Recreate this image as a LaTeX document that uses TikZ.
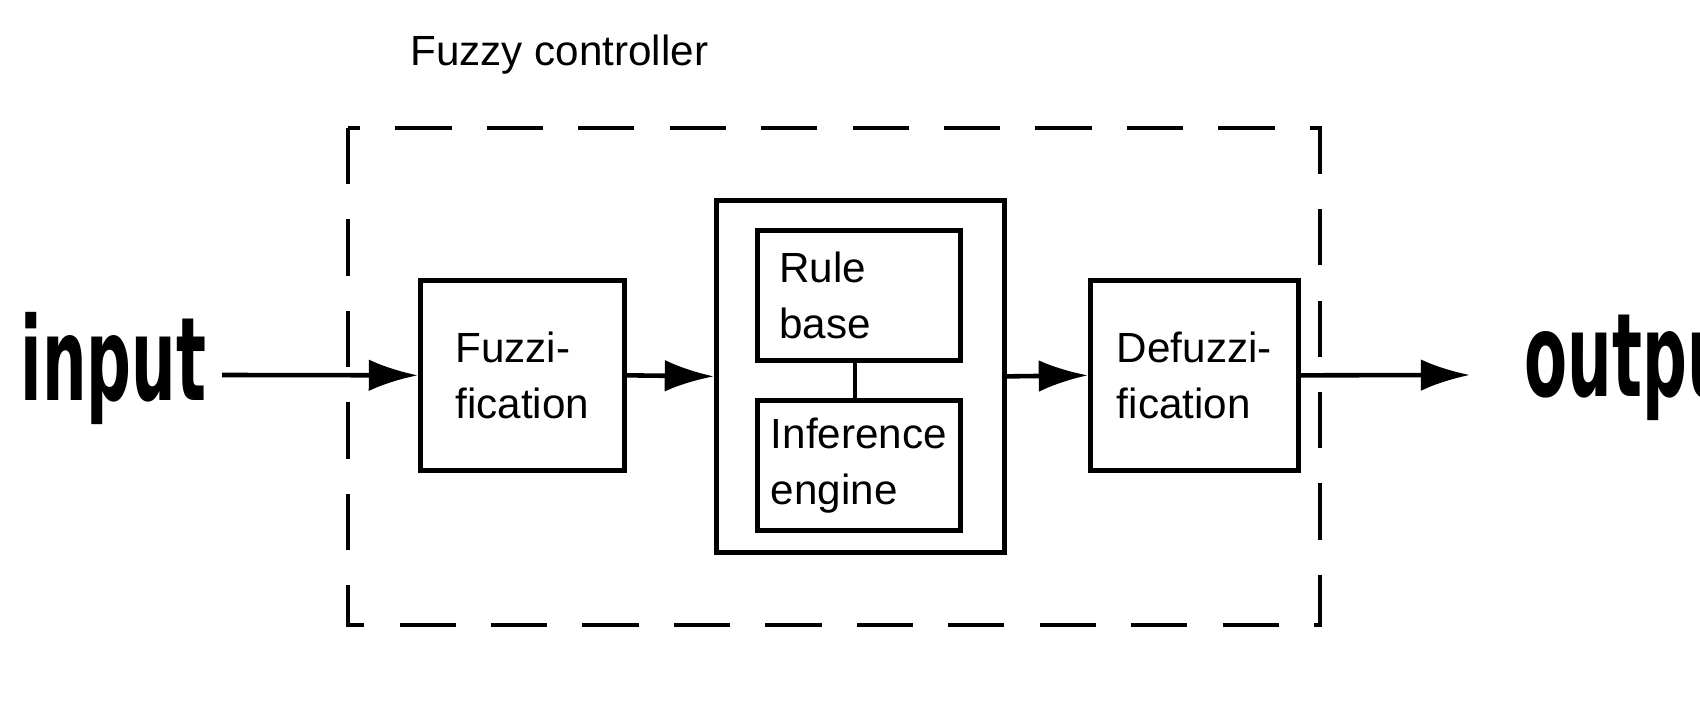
\documentclass[tikz,border=0pt]{standalone}
\usepackage{fontspec}
\setmainfont{Liberation Sans}
\newfontfamily\condfont[FakeStretch=0.6]{DejaVu Sans Condensed}
\usetikzlibrary{arrows.meta}
\begin{document}
\begin{tikzpicture}[x=0.01cm,y=-0.01cm,
  box/.style={draw,line width=1.3pt,inner sep=0pt,anchor=north west},
  lbl/.style={font=\fontsize{12}{16}\selectfont,align=left},
  arr/.style={line width=1.3pt,-{Latex[length=14pt,width=9pt]}},
  big/.style={font=\condfont\bfseries\fontsize{33}{36}\selectfont}]
\useasboundingbox (0,0) rectangle (1700,701);
\clip (0,0) rectangle (1700,701);
\fill[white] (0,0) rectangle (1700,701);
\node[lbl,anchor=west] (title) at (398,55) {Fuzzy controller};
\draw[line width=1.3pt,dash pattern=on 16pt off 10pt] (348,128) rectangle (1320,625);
\node[box,minimum width=2.04cm,minimum height=1.90cm] (fz) at (418,278) {};
\node[lbl] at (fz.center) {Fuzzi-\\fication};
\node[box,minimum width=2.88cm,minimum height=3.52cm] (mid) at (714,198) {};
\node[box,minimum width=2.03cm,minimum height=1.30cm] (rb) at (755,228) {};
\node[lbl] at (rb.center) {Rule\phantom{nce}\\base\phantom{nce}};
\node[box,minimum width=2.03cm,minimum height=1.30cm] (ie) at (755,398) {};
\node[lbl] at (ie.center) {Inference\\engine};
\draw[line width=1.3pt] (rb.south) ++(-4,0) coordinate (a) -- (a |- ie.north);
\node[box,minimum width=2.08cm,minimum height=1.90cm] (dz) at (1088,278) {};
\node[lbl] at (dz.center) {Defuzzi-\\fication};
\node[big,anchor=west,inner sep=0pt] (in) at (20,368) {input};
\node[big,anchor=west,inner sep=0pt] (out) at (1524,368) {output};
\coordinate (s) at (222,375);
\coordinate (e) at (1470,375);
\draw[arr] (s) -- (fz.west);
\draw[arr] (fz.east) -- (mid.west);
\draw[arr] (mid.east) -- (dz.west);
\draw[arr] (dz.east) -- (e);
\end{tikzpicture}
\end{document}
